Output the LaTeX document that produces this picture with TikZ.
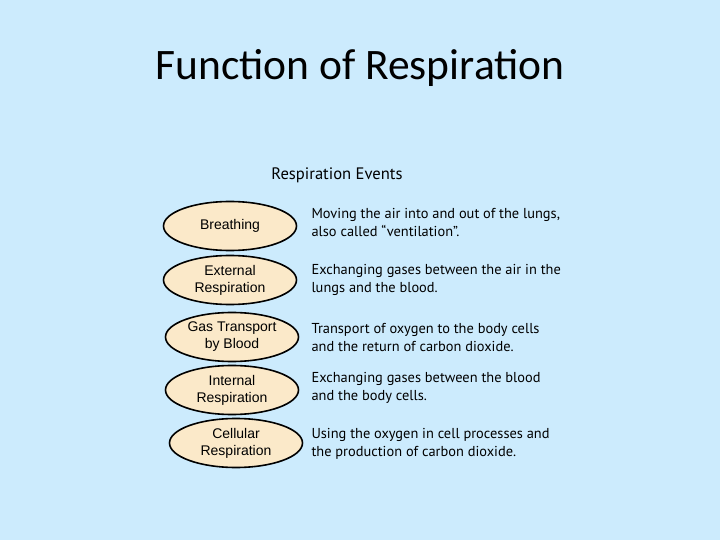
\documentclass[tikz,border=0pt]{standalone}
\usepackage{fontspec}
\setmainfont{PT Sans}
\newfontfamily\titlefont{Carlito}
\newfontfamily\arialf{Liberation Sans}
\usetikzlibrary{shapes.geometric}
\definecolor{bg}{HTML}{CCEBFD}
\definecolor{beige}{HTML}{FBE9C9}
\begin{document}
\begin{tikzpicture}[x=1pt,y=-1pt,
  ev/.style={ellipse,draw=black,line width=1.6pt,fill=beige,minimum width=133pt,minimum height=49pt,inner sep=0pt,align=center,font=\arialf\fontsize{14}{17}\selectfont},
  desc/.style={anchor=west,align=left,font=\fontsize{14.4}{18}\selectfont}]
\fill[bg] (0,0) rectangle (720,540);
\useasboundingbox (0,0) rectangle (720,540);
\node[font=\titlefont\fontsize{43.5}{45}\selectfont] (title) at (360,68) {Function of Respiration};
\node[font=\fontsize{16.6}{18}\selectfont] (head) at (337,175) {Respiration Events};
\node[ev] (e1) at (230,226) {Breathing};
\node[ev] (e2) at (230,280) {External\\Respiration};
\node[ev] (e3) at (232,337) {Gas Transport\\by Blood};
\node[ev] (e4) at (232,390) {Internal\\Respiration};
\node[ev] (e5) at (236,443) {Cellular\\Respiration};
\node[desc] (d1) at (308,222) {Moving the air into and out of the lungs,\\also called ``ventilation''.};
\node[desc] (d2) at (308,280) {Exchanging gases between the air in the\\lungs and the blood.};
\node[desc] (d3) at (308,338) {Transport of oxygen to the body cells\\and the return of carbon dioxide.};
\node[desc] (d4) at (308,388) {Exchanging gases between the blood\\and the body cells.};
\node[desc] (d5) at (308,444) {Using the oxygen in cell processes and\\the production of carbon dioxide.};
\end{tikzpicture}
\end{document}
